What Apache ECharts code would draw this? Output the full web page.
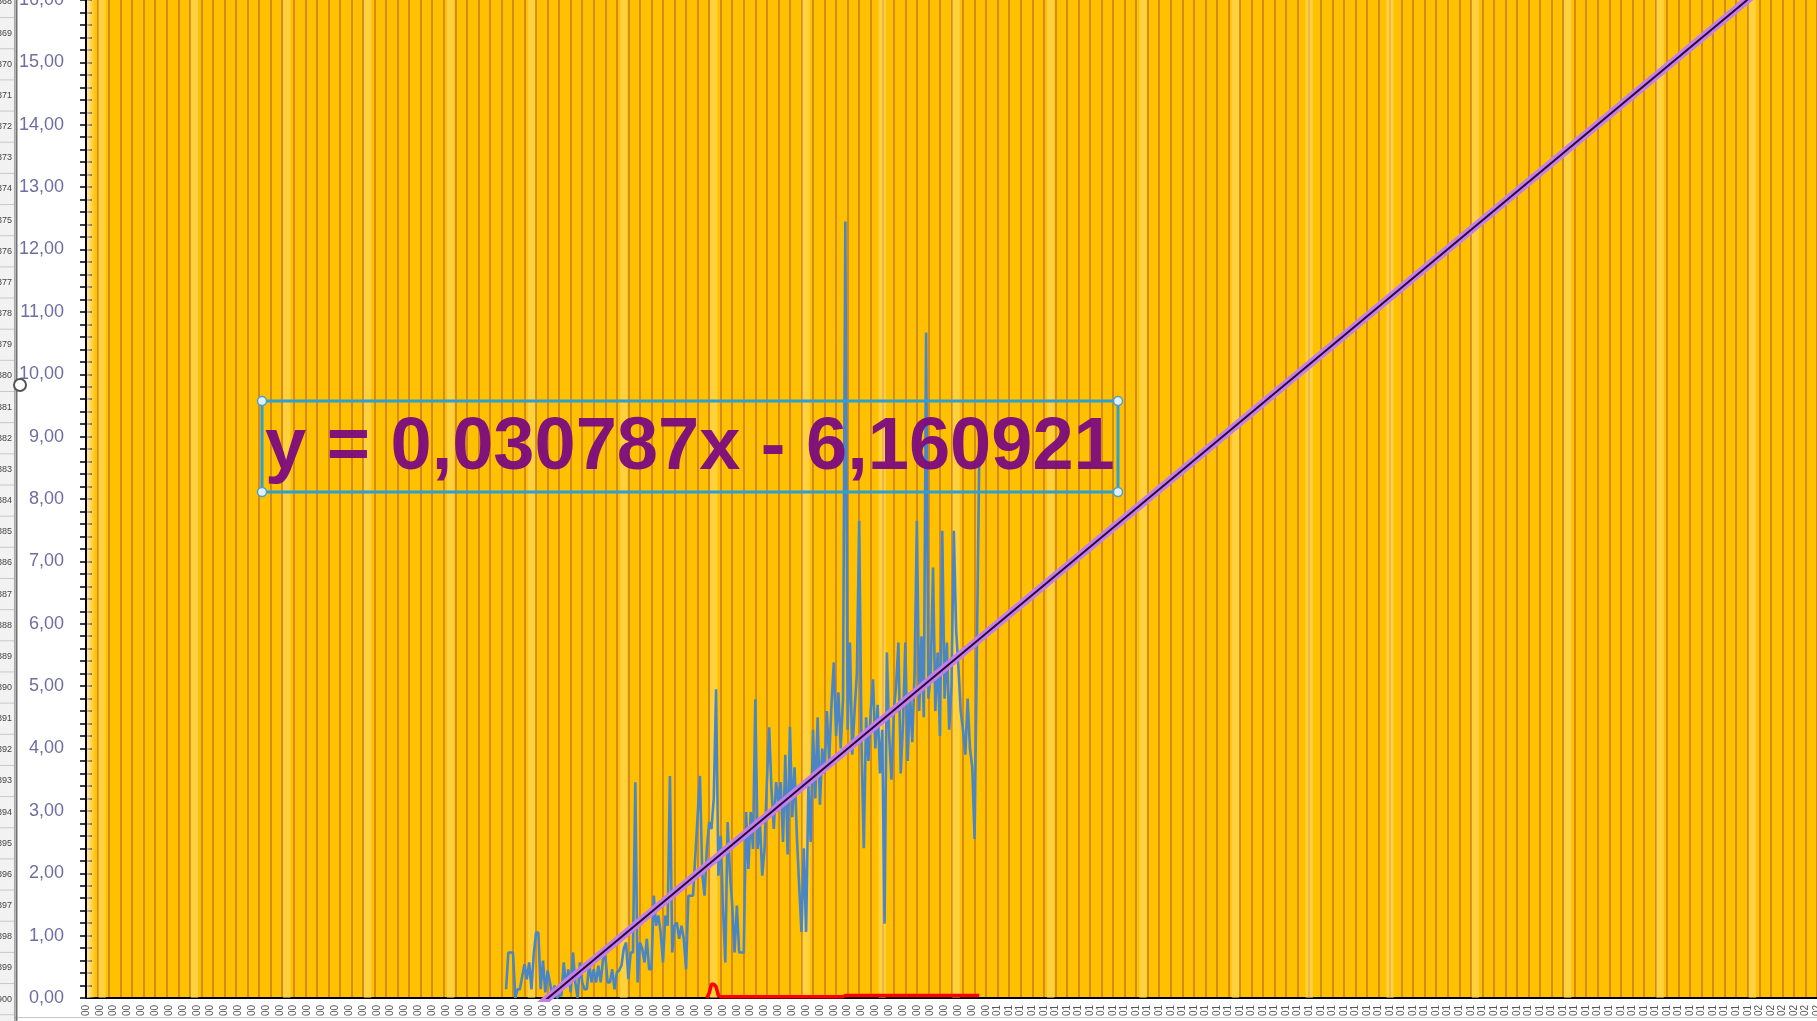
<!DOCTYPE html>
<html>
<head>
<meta charset="utf-8">
<script src="https://cdn.jsdelivr.net/npm/echarts@6/dist/echarts.min.js"></script>
<style>
html,body{margin:0;padding:0;background:#fff;}
#c{width:1817px;height:1021px;}
</style>
</head>
<body>
<div id="c"></div>
<script>
// ---- data ----
const blueStart = 182; // category index of first blue value
const blueValues = [
  0.14, 0.73, 0.73, 0.73, 0.00, 0.14, 0.14, 0.35, 0.54, 0.30,
  0.57, 0.14, 0.70, 1.05, 1.05, 0.14, 0.60, 0.09, 0.44, 0.25,
  0.04, 0.20, 0.00, 0.04, 0.04, 0.57, 0.20, 0.46, 0.09, 0.73,
  0.25, 0.00, 0.57, 0.25, 0.14, 0.14, 0.57, 0.25, 0.46, 0.25,
  0.52, 0.25, 0.62, 0.68, 0.25, 0.25, 0.46, 0.14, 0.41, 0.44,
  0.52, 0.79, 0.89, 0.30, 0.73, 0.73, 3.46, 0.25, 0.89, 0.79,
  0.57, 0.95, 0.46, 0.46, 1.64, 1.16, 1.32, 1.05, 0.57, 1.32,
  1.16, 3.56, 0.73, 1.16, 1.21, 0.95, 1.16, 0.95, 0.46, 1.64,
  1.64, 1.64, 2.28, 2.92, 3.56, 2.00, 1.64, 2.39, 2.82, 2.71,
  3.20, 4.95, 1.96, 2.60, 1.43, 0.57, 2.82, 2.00, 1.48, 0.73,
  1.48, 0.73, 0.73, 0.73, 2.98, 2.07, 2.98, 2.39, 4.79, 2.39,
  2.82, 1.96, 2.39, 3.46, 4.34, 3.35, 2.71, 3.46, 3.14, 3.46,
  2.50, 3.90, 2.30, 4.35, 2.90, 3.70, 2.60, 1.80, 1.06, 2.40,
  1.06, 3.40, 2.50, 4.30, 3.20, 4.50, 3.10, 4.00, 3.60, 4.60,
  3.80, 4.70, 5.38, 4.20, 4.90, 4.00, 4.80, 12.45, 4.30, 5.70,
  3.90, 4.60, 5.20, 7.65, 4.10, 2.40, 4.50, 3.80, 4.60, 5.11,
  4.00, 4.70, 3.60, 4.30, 1.19, 5.54, 4.20, 3.50, 4.60, 5.00,
  5.70, 3.60, 4.40, 5.70, 3.80, 4.90, 4.10, 5.20, 7.65, 4.60,
  5.80, 4.50, 10.67, 4.80, 5.20, 6.90, 4.60, 5.54, 4.20, 7.49,
  4.80, 5.70, 4.30, 5.00, 7.49, 5.90, 5.30, 4.60, 4.30, 3.90,
  4.80, 4.00, 3.70, 2.55, 5.60, 8.60
];
const redStart = 269;
const redValues = [
  0.00, 0.08, 0.22, 0.22, 0.18, 0.04,
  0.02, 0.02, 0.02, 0.02, 0.02, 0.02, 0.02, 0.02, 0.02, 0.02,
  0.02, 0.02, 0.02, 0.02, 0.02, 0.02, 0.02, 0.02, 0.02, 0.02,
  0.02, 0.02, 0.02, 0.02, 0.02, 0.02, 0.02, 0.02, 0.02, 0.02,
  0.02, 0.02, 0.02, 0.02, 0.02, 0.02, 0.02, 0.02, 0.02, 0.02,
  0.02, 0.02, 0.02, 0.02, 0.02, 0.02, 0.02, 0.02, 0.02, 0.02,
  0.02, 0.02, 0.02, 0.02,
  0.04, 0.04, 0.04, 0.04, 0.04, 0.04, 0.04, 0.04, 0.04, 0.04,
  0.04, 0.04, 0.04, 0.04, 0.04, 0.04, 0.04, 0.04, 0.04, 0.04,
  0.04, 0.04, 0.04, 0.04, 0.04, 0.04, 0.04, 0.04, 0.04, 0.04,
  0.04, 0.04, 0.04, 0.04, 0.04, 0.04, 0.04, 0.04, 0.04, 0.04,
  0.04, 0.04, 0.04, 0.04, 0.04, 0.04, 0.04, 0.04, 0.04, 0.04,
  0.04, 0.04, 0.04, 0.04, 0.04, 0.04, 0.04, 0.04, 0.04
];
const trendX = [182, 760];
const trendY = [-0.56, 17.24];
const equationText = 'y = 0,030787x - 6,160921';
const yTickLabels = ['0,00','1,00','2,00','3,00','4,00','5,00','6,00','7,00','8,00',
  '9,00','10,00','11,00','12,00','13,00','14,00','15,00','16,00'];
const xLabelTexts = ['0,00', '0,01', '0,02'];
const xLabelBreaks = [395, 725];
const lightBandCenters = [7, 47, 87, 122, 158, 193, 233, 272, 312, 345, 377, 418, 458, 498, 530, 565, 602, 642, 682, 722];
const rowLabels = [868,869,870,871,872,873,874,875,876,877,878,879,880,881,882,883,884,
  885,886,887,888,889,890,891,892,893,894,895,896,897,898,899,900];

// ---- chart ----
const chart = echarts.init(document.getElementById('c'), null, {renderer: 'canvas'});

const graphics = [];
// Excel row-header strip
graphics.push({type:'rect', shape:{x:0, y:0, width:14, height:1021}, style:{fill:'#F2F2F2'}, z:10});
rowLabels.forEach((r, i) => {
  const cy = 2 + i * 31.16;
  graphics.push({type:'line', shape:{x1:0, y1:cy + 15.6, x2:14, y2:cy + 15.6}, style:{stroke:'#C8C8C8', lineWidth:1}, z:11});
  graphics.push({type:'text', x:12, y:cy, style:{text:String(r), font:'9px "Liberation Sans"', fill:'#444', align:'right', verticalAlign:'middle'}, z:12});
});
graphics.push({type:'line', shape:{x1:14.5, y1:0, x2:14.5, y2:1021}, style:{stroke:'#A8A8A8', lineWidth:1}, z:12});
graphics.push({type:'line', shape:{x1:16.5, y1:0, x2:16.5, y2:1021}, style:{stroke:'#707070', lineWidth:2}, z:12});
graphics.push({type:'circle', shape:{cx:20, cy:385, r:6}, style:{fill:'#fff', stroke:'#555', lineWidth:2}, z:13});
// soft light fade at left edge of plot area
graphics.push({type:'rect', shape:{x:87, y:0, width:9, height:998},
  style:{fill:new echarts.graphic.LinearGradient(0,0,1,0,[{offset:0,color:'rgba(255,245,220,0.75)'},{offset:1,color:'rgba(255,245,220,0)'}])}, z:2});
// bottom UI strip (covers rest of the rotated labels) and line
graphics.push({type:'rect', shape:{x:17, y:1016, width:1800, height:5}, style:{fill:'#ffffff'}, z:9});
graphics.push({type:'line', shape:{x1:0, y1:1017.5, x2:1817, y2:1017.5}, style:{stroke:'#C4C4C4', lineWidth:1}, z:9});
// equation text box
graphics.push({type:'text', x:265, y:449, style:{text:equationText, font:'bold 74px "Liberation Sans", Arial, sans-serif', fill:'#7B0A80', align:'left', verticalAlign:'middle', opacity:0.95}, z:20});
graphics.push({type:'rect', shape:{x:262, y:401, width:856, height:91}, style:{fill:'none', stroke:'#2E9FCF', lineWidth:3}, z:21});
[[262,401],[1118,401],[262,492],[1118,492]].forEach(p => {
  graphics.push({type:'circle', shape:{cx:p[0], cy:p[1], r:4.5}, style:{fill:'#E2F0FB', stroke:'#4A9FD0', lineWidth:1.5}, z:22});
});

const option = {
  animation: false,
  backgroundColor: '#ffffff',
  grid: {left: 86, right: 0, top: 0, bottom: 23, show: true, backgroundColor: '#FFC000', borderWidth: 0,
    outerBoundsMode: 'none', containLabel: false},
  xAxis: [
    {
      type: 'value', min: 0, max: 750, interval: 5,
      axisLine: {show: true, onZero: false, lineStyle: {color: '#000', width: 2}},
      axisTick: {show: false},
      axisLabel: {show: false},
      splitLine: {show: true, lineStyle: {color: '#D28C1E', width: 2}}
    },
    {
      type: 'value', min: 0, max: 750, interval: 1, position: 'bottom',
      axisLine: {show: false}, axisTick: {show: false}, splitLine: {show: false},
      axisLabel: {
        show: true, rotate: 90, fontSize: 10, color: '#555', margin: 7,
        fontFamily: 'Liberation Sans',
        formatter: function (v) {
          if (v < xLabelBreaks[0]) return (v % 6 === 0) ? xLabelTexts[0] : '';
          if (v % 5 !== 0) return '';
          return v < xLabelBreaks[1] ? xLabelTexts[1] : xLabelTexts[2];
        }
      }
    }
  ],
  yAxis: [
    {
      type: 'value', min: 0, max: 16, interval: 1,
      axisLine: {show: true, lineStyle: {color: '#000', width: 2}},
      axisTick: {show: true, length: 6, lineStyle: {color: '#000', width: 1.5}},
      minorTick: {show: true, splitNumber: 5, length: 6, lineStyle: {color: '#000', width: 1.5}},
      axisLabel: {show: true, color: '#6E6EA2', fontSize: 18, fontFamily: 'Liberation Sans', margin: 22,
        formatter: v => yTickLabels[Math.round(v)]},
      splitLine: {show: false}
    },
    {
      type: 'value', min: 0, max: 16, interval: 1, position: 'left',
      axisLine: {show: false},
      axisTick: {show: true, inside: true, length: 6, lineStyle: {color: '#000', width: 1.5}},
      minorTick: {show: true, splitNumber: 5, length: 6, lineStyle: {color: '#000', width: 1.5}},
      axisLabel: {show: false},
      splitLine: {show: false}
    }
  ],
  series: [
    {
      name: 'bands', type: 'line', data: [], xAxisIndex: 0, yAxisIndex: 0, z: 1, silent: true,
      markArea: {
        silent: true,
        itemStyle: {color: 'rgba(255, 226, 120, 0.5)'},
        data: lightBandCenters.map(c => [{xAxis: c - 1.6}, {xAxis: c + 1.6}])
      }
    },
    {
      name: 'blue', type: 'line', xAxisIndex: 0, yAxisIndex: 0, z: 3,
      data: blueValues.map((v, i) => [blueStart + i, v]),
      showSymbol: false, symbol: 'none',
      lineStyle: {color: '#4A86C4', width: 2.6}
    },
    {
      name: 'red', type: 'line', xAxisIndex: 0, yAxisIndex: 0, z: 3,
      data: redValues.map((v, i) => [redStart + i, v]),
      showSymbol: false, symbol: 'none',
      lineStyle: {color: '#FF0000', width: 3.5}
    },
    {
      name: 'trendGlow', type: 'line', xAxisIndex: 0, yAxisIndex: 0, z: 4,
      data: trendX.map((x, i) => [x, trendY[i]]),
      showSymbol: false, symbol: 'none', clip: true,
      lineStyle: {color: '#C47FEA', width: 8}
    },
    {
      name: 'trend', type: 'line', xAxisIndex: 0, yAxisIndex: 0, z: 5,
      data: trendX.map((x, i) => [x, trendY[i]]),
      showSymbol: false, symbol: 'none', clip: true,
      lineStyle: {color: '#2A0A3E', width: 2}
    }
  ],
  graphic: graphics
};
chart.setOption(option);
</script>
</body>
</html>
